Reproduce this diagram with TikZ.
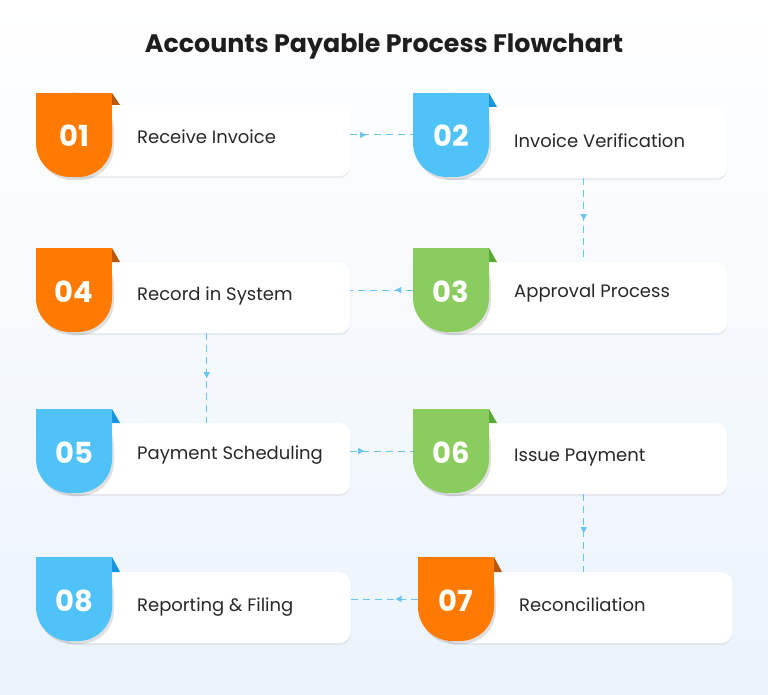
\documentclass[tikz,border=0pt]{standalone}
\usepackage{fontspec}
\setmainfont{Poppins}
\usetikzlibrary{positioning,shadows,arrows.meta,decorations.markings}
\definecolor{apOrange}{RGB}{255,122,0}
\definecolor{apOrangeDark}{RGB}{186,88,8}
\definecolor{apBlue}{RGB}{79,195,247}
\definecolor{apBlueDark}{RGB}{22,150,222}
\definecolor{apGreen}{RGB}{139,204,94}
\definecolor{apGreenDark}{RGB}{92,168,52}
\definecolor{apLine}{RGB}{104,196,240}
\definecolor{apText}{RGB}{40,40,40}
\definecolor{apTitle}{RGB}{30,30,30}
\definecolor{apBgBottom}{RGB}{235,243,251}

\tikzset{
  card/.style={fill=white, rounded corners=11pt, minimum width=287pt, minimum height=71pt, anchor=north west, drop shadow={opacity=0.12, shadow xshift=0pt, shadow yshift=-2pt}},
  badge/.style={rounded corners=34pt, minimum width=76pt, minimum height=84pt, inner sep=0pt, font=\bfseries\fontsize{29}{29}\selectfont, text=white, text height=24pt, text depth=0pt},
  badgeshadow/.style={fill=black, opacity=0.12, rounded corners=34pt},
  steptext/.style={anchor=base west, font=\fontsize{18}{18}\selectfont, text=apText, inner sep=0pt},
  flow/.style={apLine, line width=1pt, dash pattern=on 7pt off 5pt, postaction={decorate}, decoration={markings, mark=at position #1 with {\arrow{Triangle[length=6pt,width=6pt]}}}},
  flow/.default=0.5,
}

\begin{document}
\begin{tikzpicture}[x=1pt, y=-1pt]
    \useasboundingbox (0,0) rectangle (768,695);
    \shade[top color=white, bottom color=apBgBottom] (0,0) rectangle (768,695);

    \node[font=\bfseries\fontsize{25.3}{25.3}\selectfont, text=apTitle, anchor=base] (title) at (384,53) {Accounts Payable Process Flowchart};

    % row 1
    \node[card] (c1) at (63,105) {};
    \fill[badgeshadow] (38,96) rectangle (114,180);
    \fill[apOrange] (36,93) rectangle (112,128);
    \node[badge, fill=apOrange] (b1) at (74,135) {01};
    \fill[apOrangeDark] (112,93) -- (120,105) -- (112,105) -- cycle;
    \node[steptext] (t1) at (137,144) {Receive Invoice};

    \node[card] (c2) at (440,107) {};
    \fill[badgeshadow] (415,96) rectangle (491,180);
    \fill[apBlue] (413,93) rectangle (489,128);
    \node[badge, fill=apBlue] (b2) at (451,135) {02};
    \fill[apBlueDark] (489,93) -- (497,107) -- (489,107) -- cycle;
    \node[steptext] (t2) at (514,148) {Invoice Verification};

    % row 2
    \node[card] (c4) at (63,262) {};
    \fill[badgeshadow] (38,251) rectangle (114,335);
    \fill[apOrange] (36,248) rectangle (112,283);
    \node[badge, fill=apOrange] (b4) at (74,290) {04};
    \fill[apOrangeDark] (112,248) -- (120,262) -- (112,262) -- cycle;
    \node[steptext] (t4) at (137,300) {Record in System};

    \node[card] (c3) at (440,262) {};
    \fill[badgeshadow] (415,251) rectangle (491,335);
    \fill[apGreen] (413,248) rectangle (489,283);
    \node[badge, fill=apGreen] (b3) at (451,290) {03};
    \fill[apGreenDark] (489,248) -- (497,262) -- (489,262) -- cycle;
    \node[steptext] (t3) at (514,297) {Approval Process};

    % row 3
    \node[card] (c5) at (63,423) {};
    \fill[badgeshadow] (38,412) rectangle (114,496);
    \fill[apBlue] (36,409) rectangle (112,444);
    \node[badge, fill=apBlue] (b5) at (74,451) {05};
    \fill[apBlueDark] (112,409) -- (120,423) -- (112,423) -- cycle;
    \node[steptext] (t5) at (137,459) {Payment Scheduling};

    \node[card] (c6) at (440,423) {};
    \fill[badgeshadow] (415,412) rectangle (491,496);
    \fill[apGreen] (413,409) rectangle (489,444);
    \node[badge, fill=apGreen] (b6) at (451,451) {06};
    \fill[apGreenDark] (489,409) -- (497,423) -- (489,423) -- cycle;
    \node[steptext] (t6) at (514,461) {Issue Payment};

    % row 4
    \node[card] (c8) at (63,572) {};
    \fill[badgeshadow] (38,560) rectangle (114,644);
    \fill[apBlue] (36,557) rectangle (112,592);
    \node[badge, fill=apBlue] (b8) at (74,599) {08};
    \fill[apBlueDark] (112,557) -- (120,572) -- (112,572) -- cycle;
    \node[steptext] (t8) at (137,611) {Reporting \& Filing};

    \node[card] (c7) at (445,572) {};
    \fill[badgeshadow] (420,560) rectangle (496,644);
    \fill[apOrange] (418,557) rectangle (494,592);
    \node[badge, fill=apOrange] (b7) at (456,599) {07};
    \fill[apOrangeDark] (494,557) -- (502,572) -- (494,572) -- cycle;
    \node[steptext] (t7) at (519,611) {Reconciliation};

    % connectors
    \draw[flow=0.25] (c1.east |- b2.west) -- (b2.west);
    \draw[flow] (c2.south) -- (c3.north);
    \draw[flow=0.28] (b3.west) -- (b3.west -| c4.east);
    \draw[flow] (c4.south) -- (c5.north);
    \draw[flow=0.22] (c5.east |- b6.west) -- (b6.west);
    \draw[flow] (c6.south) -- (c6.south |- c7.north);
    \draw[flow=0.33] (b7.west) -- (b7.west -| c8.east);
\end{tikzpicture}
\end{document}
